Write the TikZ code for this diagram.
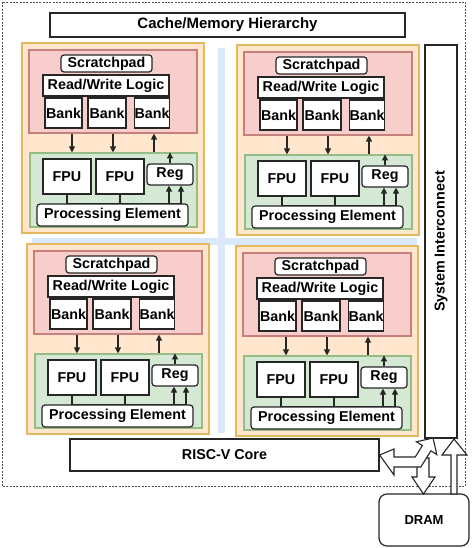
\documentclass[tikz,border=0pt]{standalone}
\usepackage{fontspec}
\setmainfont{Liberation Sans}
\usetikzlibrary{arrows.meta}
\definecolor{orfill}{HTML}{FFE6CC}
\definecolor{ordraw}{HTML}{E2B860}
\definecolor{rdfill}{HTML}{F8CECC}
\definecolor{rddraw}{HTML}{C8807C}
\definecolor{grfill}{HTML}{D5E8D4}
\definecolor{grdraw}{HTML}{94BC84}
\definecolor{blfill}{HTML}{DAE8FC}
\definecolor{ink}{HTML}{262626}
\begin{document}
\begin{tikzpicture}[x=1pt,y=-1pt,
  wbox/.style={draw=ink, fill=white, line width=1.2pt, inner sep=0pt,
    font=\fontsize{14.3}{16}\selectfont\bfseries, text=black},
  rbox/.style={wbox, rounded corners=3pt},
  sz/.style 2 args={minimum width=#1pt, minimum height=#2pt},
  area/.style={inner sep=0pt, line width=1.1pt},
  con/.style={draw=ink, line width=1.1pt, -{Triangle[length=6pt,width=6pt]}},
  flex/.style={draw=ink, fill=white, line width=1.1pt, line join=miter},
  outer/.style={draw=ink!80, line width=0.9pt, dash pattern=on 2pt off 1.3pt}]
\useasboundingbox (0,0) rectangle (474,548);
% outer dotted frame
\draw[outer] (2,2) rectangle (465,486);
% blue cross
\fill[blfill] (218,48) rectangle (225,433);
\fill[blfill] (32,238) rectangle (417,245);
% tiles
\foreach \n/\dx/\dy in {a/0/0,b/215/2,c/5/201,d/214/203}{
 \begin{scope}[shift={(\dx,\dy)}]
  \node[area, draw=ordraw, fill=orfill, sz={182}{190}] (tile\n) at (113,138) {};
  \node[area, draw=rddraw, fill=rdfill, sz={168}{83}] (red\n) at (113,91.5) {};
  \node[rbox, sz={91}{17}] (sp\n) at (106.5,63.5) {Scratchpad};
  \node[wbox, sz={126}{21}] (rw\n) at (106,85.5) {Read/Write Logic};
  \node[wbox, sz={37}{30}] (bka\n) at (63.5,113) {Bank};
  \node[wbox, sz={38}{30}] (bkb\n) at (107,113) {Bank};
  \node[wbox, sz={34}{30}] (bkc\n) at (152,113) {Bank};
  \node[area, draw=grdraw, fill=grfill, sz={167}{74}] (grn\n) at (113.5,190) {};
  \node[wbox, sz={48}{35}] (fpa\n) at (67,176.5) {FPU};
  \node[wbox, sz={48}{35}] (fpb\n) at (120,176.5) {FPU};
  \node[rbox, sz={46}{21}] (reg\n) at (170,174.5) {Reg};
  \node[rbox, sz={151}{22}] (pe\n) at (112.5,215) {Processing Element};
  \coordinate (xa\n) at (72,140);
  \coordinate (xb\n) at (113,140);
  \coordinate (xc\n) at (154,140);
  \coordinate (xd\n) at (169,140);
  \coordinate (xe\n) at (181,140);
 \end{scope}
}
\foreach \n in {a,b,c,d}{
  \draw[con] (red\n.south -| xa\n) -- (grn\n.north -| xa\n);
  \draw[con] (red\n.south -| xb\n) -- (grn\n.north -| xb\n);
  \draw[con] (grn\n.north -| xc\n) -- (red\n.south -| xc\n);
  \draw[con] (reg\n.north) -- (reg\n.north |- grn\n.north);
  \draw[con] (fpa\n.south) |- (xd\n |- pe\n.north) -- (xd\n |- reg\n.south);
  \draw[con] (fpb\n.south) |- (xe\n |- pe\n.north) -- (xe\n |- reg\n.south);
}
% big blocks
\node[wbox, sz={355}{24}, font=\fontsize{15}{17}\selectfont\bfseries] (cache) at (227.5,25) {Cache/Memory Hierarchy};
\node[wbox, rotate=90, sz={393}{32}] (sys) at (441,241.5) {System Interconnect};
\node[wbox, sz={309}{32}] (riscv) at (224.5,455) {RISC-V Core};
\node[wbox, rounded corners=8pt, sz={90}{52}, font=\fontsize{13}{15}\selectfont\bfseries] (dram) at (424,520) {DRAM};
% flex arrows
\draw[flex] (417,458) -- (417,477) -- (412,477) -- (423.5,494) -- (435,477) -- (429,477) -- (429,458) -- cycle;
\draw[flex] (451,494) -- (451,455) -- (442,455) -- (454,439) -- (467,455) -- (457,455) -- (457,494) -- cycle;
\draw[flex] (riscv.east) -- (394,449) -- (394,457) -- (415.2,457) -- (422.4,445.5) -- (416.4,441.8)
  -- (433,438) -- (436.8,454.6) -- (430.9,450.8) -- (420.8,467) -- (394,467) -- (394,475) -- cycle;
\end{tikzpicture}
\end{document}
